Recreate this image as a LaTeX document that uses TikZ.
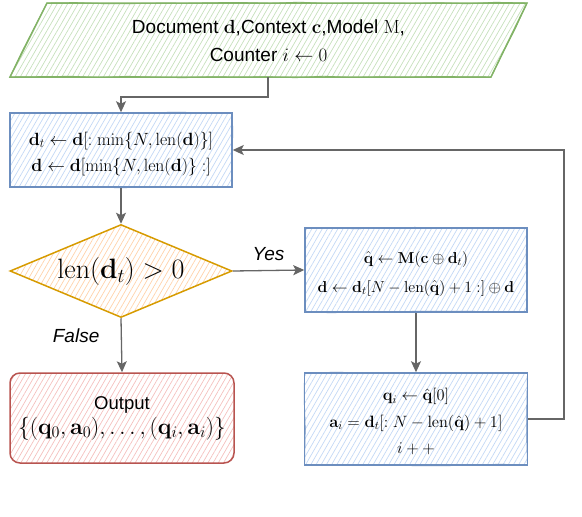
\RequirePackage{fix-cm}
\documentclass[tikz,border=0pt]{standalone}
\usepackage{amsmath,amssymb}
\usepackage[no-math]{fontspec}
\newfontfamily\sansf{Liberation Sans}
\usetikzlibrary{shapes.geometric,arrows.meta,patterns.meta,decorations.pathmorphing}
\definecolor{gstroke}{HTML}{82B366}
\definecolor{ghatch}{HTML}{C6E0BC}
\definecolor{bstroke}{HTML}{6C8EBF}
\definecolor{bhatch}{HTML}{C3D8F5}
\definecolor{ostroke}{HTML}{D79B00}
\definecolor{ohatch}{HTML}{FFD2AA}
\definecolor{rstroke}{HTML}{B85450}
\definecolor{rhatch}{HTML}{F4C0BE}
\definecolor{arrowc}{HTML}{666666}
\begin{document}
\begin{tikzpicture}[x=1pt,y=-1pt,
  hatch/.style={pattern={Lines[angle=60,distance=4.5pt,line width=0.7pt]},pattern color=#1},
  sketch/.style={postaction={draw=#1,line width=0.9pt,decorate,
    decoration={random steps,segment length=28pt,amplitude=0.8pt}}},
  bluebox/.style={draw=bstroke,line width=1.5pt,hatch=bhatch,sketch=bstroke,align=center,inner sep=0pt},
  diabox/.style={diamond,shape aspect=2.39,draw=ostroke,line width=1.5pt,hatch=ohatch,inner sep=0pt,
    font=\fontsize{28}{30}\selectfont},
  outbox/.style={draw=rstroke,line width=1.5pt,hatch=rhatch,rounded corners=10pt,align=center,inner sep=0pt},
  conn/.style={draw=arrowc,line width=1.3pt,-{Stealth[length=11pt,width=10pt,inset=2.5pt]}},
  lbl/.style={font=\sansf\itshape\fontsize{19}{22}\selectfont}]
\useasboundingbox (0,0) rectangle (582,517);
% input parallelogram
\draw[draw=gstroke,line width=1.5pt,hatch=ghatch,sketch=gstroke] (47,3) -- (527,3) -- (491,77) -- (10,77) -- cycle;
\node[align=center,font=\sansf\fontsize{19}{28}\selectfont] (inp) at (268.5,41)
  {Document $\mathbf{d}$,Context $\mathbf{c}$,Model $\mathrm{M}$,\\Counter $i\leftarrow 0$};
\coordinate (inpb) at (268,77);
% boxes
\node[bluebox,font=\fontsize{17.7}{26}\selectfont,minimum width=222pt,minimum height=74pt] (b1) at (121,150)
  {\rule{0pt}{21pt}$\mathbf{d}_t\leftarrow\mathbf{d}[:\min\{N,\mathrm{len}(\mathbf{d})\}]$\\
   $\mathbf{d}\leftarrow\mathbf{d}[\min\{N,\mathrm{len}(\mathbf{d})\}:]$};
\node[diabox,minimum width=222pt,minimum height=93pt] (dm) at (121,271)
  {$\mathrm{len}(\mathbf{d}_t)>0$};
\node[bluebox,font=\fontsize{15.8}{29}\selectfont,minimum width=222pt,minimum height=84pt] (b2) at (416,270)
  {\rule{0pt}{19pt}$\hat{\mathbf{q}}\leftarrow\mathbf{M}(\mathbf{c}\oplus\mathbf{d}_t)$\\
   $\mathbf{d}\leftarrow\mathbf{d}_t[N-\mathrm{len}(\hat{\mathbf{q}})+1:]\oplus\mathbf{d}$};
\node[bluebox,font=\fontsize{16.4}{26.5}\selectfont,minimum width=223pt,minimum height=92pt] (b3) at (416,419)
  {\rule{0pt}{18pt}$\mathbf{q}_i\leftarrow\hat{\mathbf{q}}[0]$\\
   $\mathbf{a}_i=\mathbf{d}_t[:N-\mathrm{len}(\hat{\mathbf{q}})+1]$\\
   $i++$};
\node[outbox,minimum width=224pt,minimum height=90pt] (out) at (122,418)
  {\sansf\fontsize{18.5}{28}\selectfont Output\\[3pt]
   \fontsize{23}{28}\selectfont$\{(\mathbf{q}_0,\mathbf{a}_0),\ldots,(\mathbf{q}_i,\mathbf{a}_i)\}$};
\coordinate (fb) at (564,300);
% connectors
\draw[conn] (inpb) -- ++(0,20) -| (b1.north);
\draw[conn] (b1.south) -- (dm.north);
\draw[conn] (dm.east) -- node[lbl,above=6pt] {Yes} (b2.west);
\draw[conn] (b2.south) -- (b3.north);
\draw[conn] (dm.south) -- node[lbl,left=18pt,pos=0.32] {False} (out.north);
\draw[conn] (b3.east) -- (b3.east -| fb) |- (b1.east);
\end{tikzpicture}
\end{document}
